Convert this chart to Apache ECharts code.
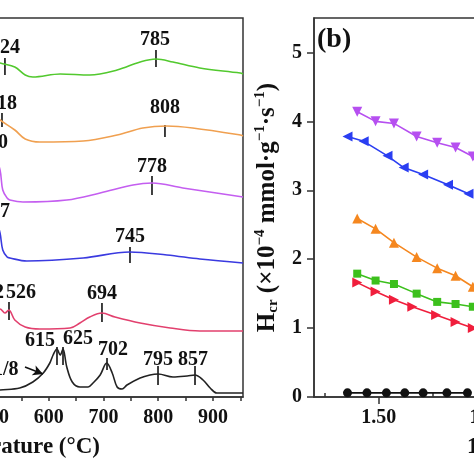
<!DOCTYPE html>
<html>
<head>
<meta charset="utf-8">
<script src="https://cdn.jsdelivr.net/npm/echarts@6/dist/echarts.min.js"></script>
<style>
html, body { margin: 0; padding: 0; background: #fff; }
#chart { width: 474px; height: 474px; }
</style>
</head>
<body>
<div id="chart"></div>
<script>
// ---- (a) thermal curves: temperature (°C) vs signal (arbitrary units, stacked) ----
const tGreen = [500, 511, 538, 557, 571, 621, 675, 725, 767, 796, 827, 876, 950, 955]
const vGreen = [337, 334, 330, 322, 320, 323, 322, 327, 335, 338, 335, 329, 324, 323]

const tOrange = [500, 511, 538, 557, 584, 663, 725, 772, 816, 863, 950, 955]
const vOrange = [283, 277, 267, 258, 255, 256, 262, 269, 271, 269, 262, 261]

const tMagenta = [500, 511, 516, 524, 529, 553, 633, 694, 754, 789, 845, 955]
const vMagenta = [245, 227, 207, 199, 197, 195, 197, 204, 212, 214, 209, 200]

const tBlue = [500, 511, 516, 524, 529, 560, 663, 748, 816, 876, 955]
const vBlue = [185, 164, 147, 140, 139, 136, 139, 145, 142, 138, 134]

const tCrimson = [500, 511, 520, 527, 538, 557, 584, 639, 657, 675, 697, 721, 767, 822, 876, 955]
const vCrimson = [85, 88, 84, 87, 77, 70, 68, 69, 74, 80, 84, 80, 74, 69, 66, 66]

const tBlack = [500, 511, 547, 571, 590, 602, 608, 615, 621, 626, 633, 643, 657, 672, 681, 694, 706, 716, 725, 734, 743, 767, 785, 800, 827, 853, 867, 882, 895, 907, 937, 955]
const vBlack = [6, 7, 9, 15, 24, 34, 42, 48, 42, 48, 30, 15, 10, 10, 14, 22, 34, 24, 10, 8, 12, 19, 22, 23, 20, 21, 22, 17, 9, 4, 4, 4]

// peak markers (temperature, low / high end in signal units)
const peakT = [520, 796, 514.6, 812.4, 788.7, 748.5, 527.4, 697.3, 615.1, 626.1, 706.5, 799.7, 867.3]
const peakLow = [322, 330, 270, 260, 202, 134, 77, 75, 32, 32, 27, 12, 12]
const peakHigh = [339, 347, 284, 272, 221, 150, 95, 94, 50, 50, 39, 31, 31]

// peak labels
const labelText = ['524', '785', '518', '500', '808', '778', '517', '745', '492', '526', '694', '615', '625', '702', '795', '857', '×1/8']
const labelT = [520.1, 794.3, 514.6, 498, 812.4, 788.7, 501.8, 748.5, 491, 549.3, 697.3, 584, 653.5, 717.4, 799.7, 863.6, 511]
const labelV = [349, 357, 293, 254, 289, 230, 185, 160, 104, 104, 103, 56, 58, 47, 37, 37, 27]

const arrowFrom = [556.6, 30]
const arrowTo = [589.5, 23]

const tempTicks = [500, 600, 700, 800, 900]
const tempMinorTicks = [500, 550, 600, 650, 700, 750, 800, 850, 900, 950]

// ---- (b) H_cr vs 1000/T ----
const xMagenta = [1.480, 1.497, 1.514, 1.535, 1.554, 1.571, 1.587]
const yMagenta = [4.14, 4.00, 3.97, 3.78, 3.69, 3.62, 3.49]
const xBlue = [1.471, 1.486, 1.508, 1.523, 1.541, 1.564, 1.583]
const yBlue = [3.78, 3.71, 3.50, 3.33, 3.23, 3.08, 2.95]
const xOrange = [1.480, 1.497, 1.514, 1.535, 1.554, 1.571, 1.587]
const yOrange = [2.59, 2.44, 2.24, 2.03, 1.87, 1.76, 1.60]
const xGreen = [1.480, 1.497, 1.514, 1.535, 1.554, 1.571, 1.587]
const yGreen = [1.79, 1.69, 1.64, 1.50, 1.38, 1.35, 1.31]
const xRed = [1.480, 1.497, 1.514, 1.531, 1.553, 1.571, 1.587]
const yRed = [1.66, 1.53, 1.41, 1.31, 1.19, 1.09, 1.00]
const xBlack = [1.471, 1.489, 1.507, 1.524, 1.541, 1.563, 1.582]
const yBlack = [0.06, 0.06, 0.06, 0.06, 0.06, 0.06, 0.06]

const xMajor = [1.5, 1.6, 1.7]
const xMinor = [1.45, 1.55, 1.65, 1.75]
const yMajor = [0, 1, 2, 3, 4, 5]
const yMinor = [0.5, 1.5, 2.5, 3.5, 4.5]

const SERIF = '"Liberation Serif", "DejaVu Serif", serif'
const AX = '#333'

const pair = (xs, ys) => xs.map((x, i) => [x, ys[i]])

const curve = (ts, vs, color) => ({
  type: 'line',
  xAxisIndex: 0,
  yAxisIndex: 0,
  data: pair(ts, vs),
  showSymbol: false,
  smooth: 0.35,
  lineStyle: { color, width: 1.6 },
  silent: true
})

const dots = (xs, ys, color, symbol, rotate, size) => ({
  type: 'line',
  xAxisIndex: 1,
  yAxisIndex: 1,
  data: pair(xs, ys),
  symbol,
  symbolRotate: rotate,
  symbolSize: size,
  itemStyle: { color },
  lineStyle: { color, width: 1.6 },
  silent: true
})

const chart = echarts.init(document.getElementById('chart'))

const option = {
  animation: false,
  backgroundColor: '#fff',
  textStyle: { fontFamily: SERIF },
  grid: [
    { left: -6, top: 18, width: 249, height: 379, show: true, borderColor: AX, borderWidth: 1.5, outerBoundsMode: 'none', containLabel: false },
    { left: 314, top: 18, width: 389, height: 379, show: true, borderColor: AX, borderWidth: 1.5, outerBoundsMode: 'none', containLabel: false }
  ],
  xAxis: [
    {
      type: 'value', gridIndex: 0, min: 500, max: 955,
      axisLine: { lineStyle: { color: AX, width: 1.5 } },
      axisTick: { length: 4, customValues: tempMinorTicks, lineStyle: { color: AX, width: 1.5 } },
      axisLabel: { customValues: tempTicks, margin: 11, color: '#111', fontSize: 20, fontWeight: 'bold', fontFamily: SERIF },
      splitLine: { show: false }
    },
    {
      type: 'value', gridIndex: 1, min: 1.44, max: 1.80,
      axisLine: { lineStyle: { color: AX, width: 1.5 } },
      axisTick: { length: 7, customValues: xMajor, lineStyle: { color: AX, width: 1.5 } },
      axisLabel: { customValues: xMajor, margin: 11, color: '#111', fontSize: 20, fontWeight: 'bold', fontFamily: SERIF,
        formatter: v => v.toFixed(2) },
      splitLine: { show: false }
    },
    {
      type: 'value', gridIndex: 1, min: 1.44, max: 1.80,
      axisLine: { show: false },
      axisTick: { length: 4, customValues: xMinor, lineStyle: { color: AX, width: 1.5 } },
      axisLabel: { show: false },
      splitLine: { show: false }
    }
  ],
  yAxis: [
    { type: 'value', gridIndex: 0, min: 0, max: 379, show: false, splitLine: { show: false } },
    {
      type: 'value', gridIndex: 1, min: 0, max: 5.5,
      axisLine: { show: true, lineStyle: { color: AX, width: 1.5 } },
      axisTick: { show: true, length: 7, customValues: yMajor, lineStyle: { color: AX, width: 1.5 } },
      axisLabel: { customValues: yMajor, margin: 12, color: '#111', fontSize: 20, fontWeight: 'bold', fontFamily: SERIF },
      splitLine: { show: false },
      name: '{b|H}{sub|cr}{b| (×10}{sup|−4}{b| mmol·g}{sup|−1}{b|·s}{sup|−1}{b|)}',
      nameLocation: 'middle',
      nameRotate: 90,
      nameGap: 25,
      nameTextStyle: {
        rich: {
          b: { fontSize: 25, fontWeight: 'bold', fontFamily: SERIF, color: '#111', lineHeight: 28 },
          sup: { fontSize: 15, fontWeight: 'bold', fontFamily: SERIF, color: '#111', verticalAlign: 'top', lineHeight: 28 },
          sub: { fontSize: 15, fontWeight: 'bold', fontFamily: SERIF, color: '#111', verticalAlign: 'bottom', lineHeight: 22 }
        }
      }
    },
    {
      type: 'value', gridIndex: 1, min: 0, max: 5.5,
      axisLine: { show: false },
      axisTick: { show: true, length: 5, customValues: yMinor, lineStyle: { color: AX, width: 1.5 } },
      axisLabel: { show: false },
      splitLine: { show: false }
    }
  ],
  graphic: [
    { type: 'text', right: 374, top: 436, style: { text: 'Temperature (°C)', font: 'bold 23px ' + SERIF, fill: '#111' } },
    { type: 'text', left: 317, top: 26, style: { text: '(b)', font: 'bold 28px ' + SERIF, fill: '#111' } },
    { type: 'text', left: 467, top: 436, style: { text: '1000/T (K⁻¹)', font: 'bold 23px ' + SERIF, fill: '#111' } }
  ],
  series: [
    curve(tGreen, vGreen, '#52c92e'),
    curve(tOrange, vOrange, '#f0a050'),
    curve(tMagenta, vMagenta, '#c45ef0'),
    curve(tBlue, vBlue, '#3a3ae0'),
    curve(tCrimson, vCrimson, '#e2406e'),
    Object.assign(curve(tBlack, vBlack, '#222'), {
      markLine: {
        silent: true,
        symbol: ['none', 'arrow'],
        symbolSize: [8, 10],
        label: { show: false },
        lineStyle: { color: '#111', width: 1.6, type: 'solid' },
        data: [[{ coord: arrowFrom }, { coord: arrowTo }]]
      }
    }),
    {
      // peak marker ticks
      type: 'custom',
      xAxisIndex: 0,
      yAxisIndex: 0,
      silent: true,
      clip: false,
      data: peakT.map((t, i) => [t, peakLow[i], peakHigh[i]]),
      renderItem: (params, api) => {
        const a = api.coord([api.value(0), api.value(1)])
        const b = api.coord([api.value(0), api.value(2)])
        return { type: 'line', shape: { x1: a[0], y1: a[1], x2: b[0], y2: b[1] }, style: { stroke: '#111', lineWidth: 1.6 } }
      }
    },
    {
      // peak labels
      type: 'custom',
      xAxisIndex: 0,
      yAxisIndex: 0,
      silent: true,
      clip: false,
      data: labelT.map((t, i) => [t, labelV[i]]),
      renderItem: (params, api) => {
        const p = api.coord([api.value(0), api.value(1)])
        return {
          type: 'text', x: p[0], y: p[1],
          style: { text: labelText[params.dataIndex], font: 'bold 20px ' + SERIF, fill: '#111', align: 'center', verticalAlign: 'middle' }
        }
      }
    },
    dots(xMagenta, yMagenta, '#b64ff0', 'triangle', 180, 10),
    dots(xBlue, yBlue, '#2a3ef2', 'triangle', 90, 10),
    dots(xOrange, yOrange, '#f5871f', 'triangle', 0, 10),
    dots(xGreen, yGreen, '#3cc01c', 'rect', 0, 8),
    dots(xRed, yRed, '#f01e3c', 'triangle', -90, 10),
    dots(xBlack, yBlack, '#111', 'circle', 0, 9)
  ]
}

chart.setOption(option)
</script>
</body>
</html>
